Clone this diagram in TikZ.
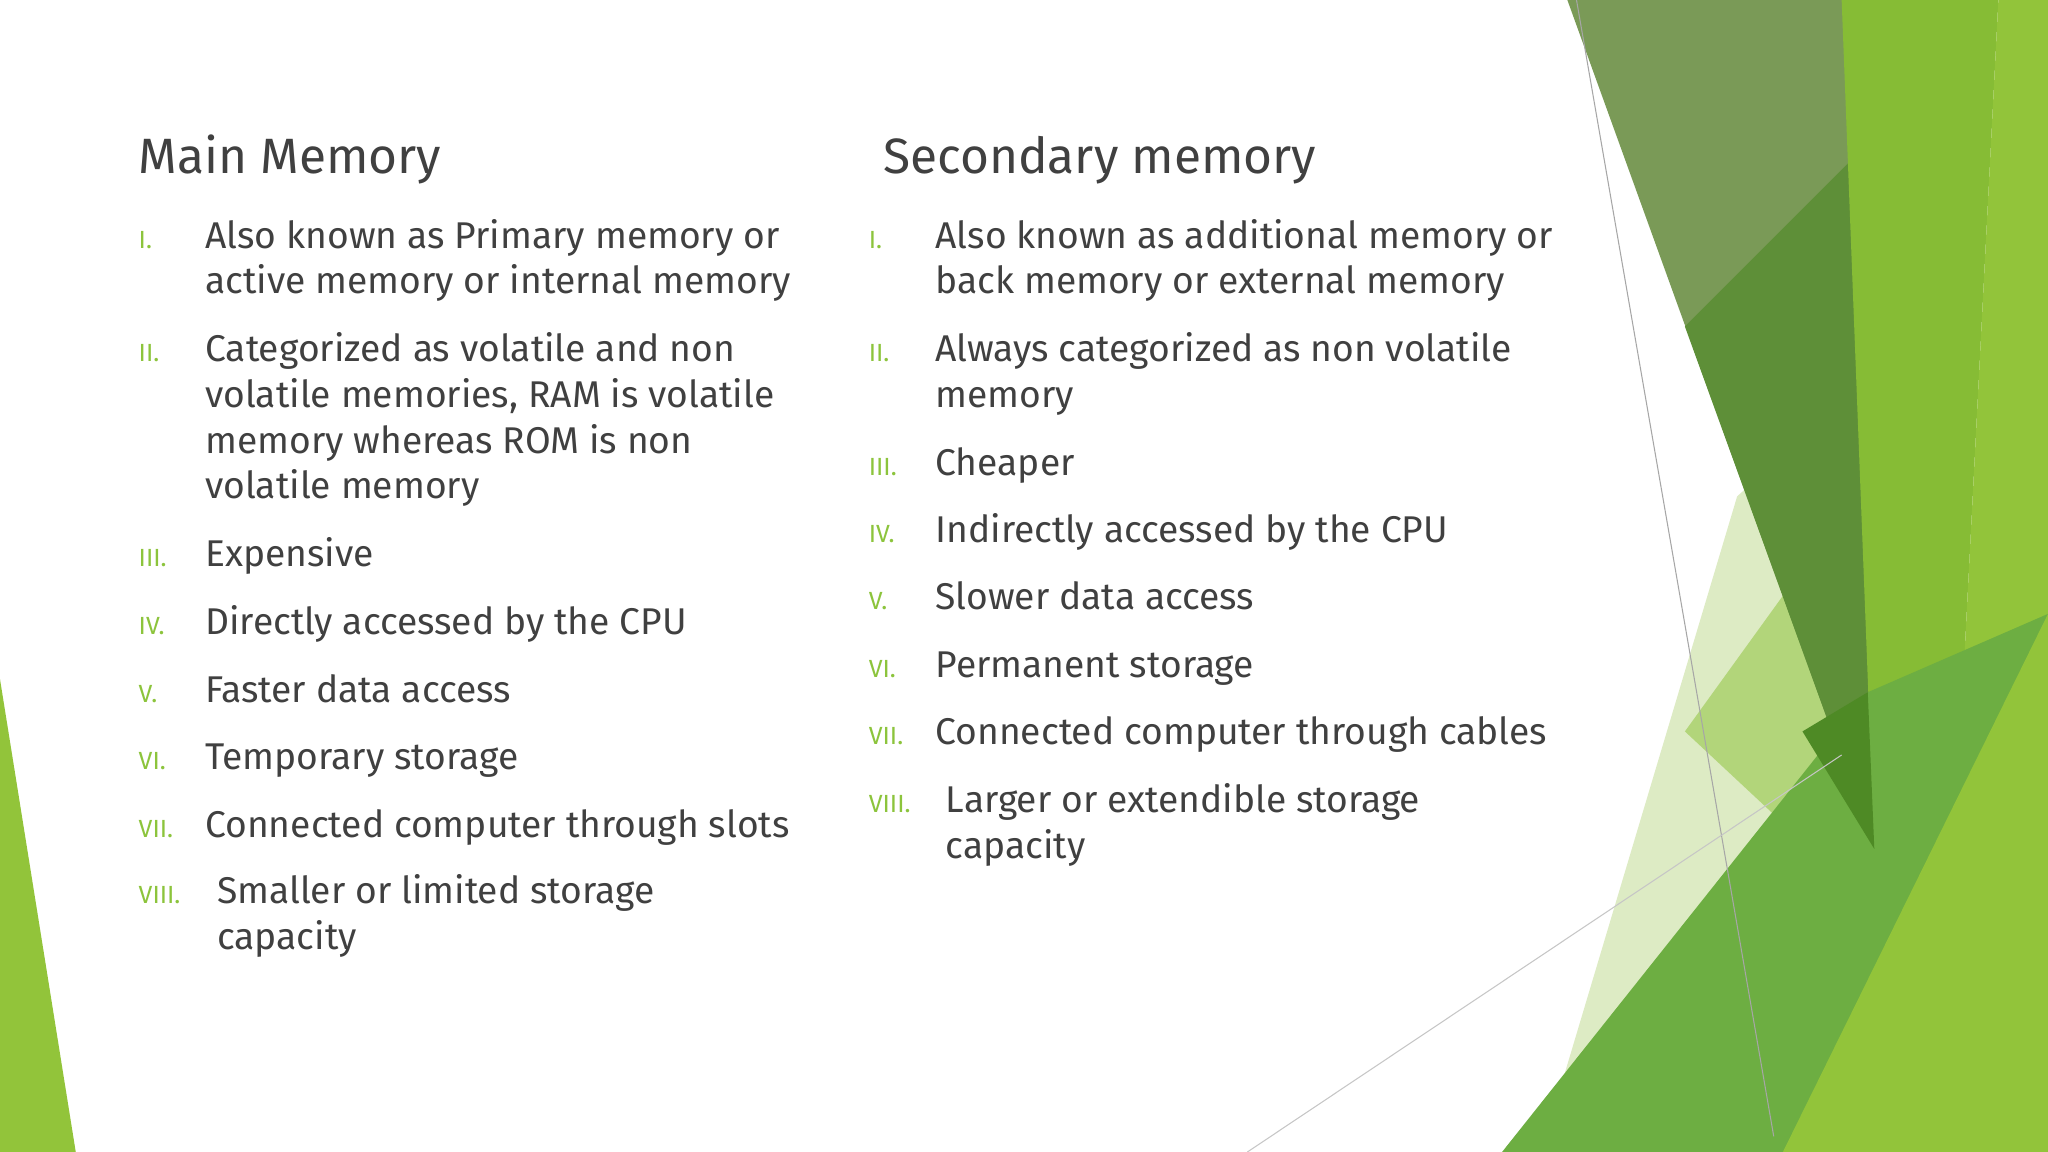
\documentclass[tikz,border=0pt]{standalone}
\usepackage{fontspec}
\setmainfont{Fira Sans}
\definecolor{txt}{HTML}{404040}
\definecolor{num}{HTML}{8CC43C}
\definecolor{gA}{HTML}{7A9A57}
\definecolor{gB}{HTML}{5E8F38}
\definecolor{gC}{HTML}{86BC35}
\definecolor{gD}{HTML}{92C43A}
\definecolor{gE}{HTML}{6DAE42}
\definecolor{gF}{HTML}{DDEBC4}
\definecolor{gG}{HTML}{B2D57A}
\definecolor{gH}{HTML}{4E8A25}
\newcommand{\ml}[1]{\parbox[t]{700pt}{\raggedright #1}}
\begin{document}
\begin{tikzpicture}[x=1pt,y=-1pt,
  it/.style={anchor=base west,text=txt,font=\fontsize{28.5}{35}\selectfont,inner sep=0pt},
  nm/.style={anchor=base west,text=num,font=\fontsize{19}{22}\selectfont,inner sep=0pt},
  ttl/.style={anchor=base west,text=txt,font=\fontsize{38}{44}\selectfont,inner sep=0pt}]
\useasboundingbox (0,0) rectangle (1568,882);
\fill[white] (0,0) rectangle (1568,882);
% right decoration
\fill[gF] (1330,380) -- (1420,300) -- (1500,580) -- (1430,882) -- (1180,882) -- cycle;
\fill[gG] (1290,560) -- (1420,380) -- (1500,580) -- (1440,700) -- cycle;
\fill[gA] (1200,0) -- (1420,0) -- (1435,650) -- cycle;
\fill[gB] (1290,250) -- (1420,120) -- (1435,650) -- cycle;
\fill[gC] (1410,0) -- (1530,0) -- (1500,580) -- (1435,650) -- cycle;
\fill[gD] (1530,0) -- (1568,0) -- (1568,882) -- (1500,580) -- cycle;
\fill[gE] (1150,882) -- (1430,530) -- (1568,470) -- (1568,882) -- cycle;
\fill[gH] (1380,560) -- (1430,530) -- (1435,650) -- cycle;
\fill[gD] (1365,882) -- (1568,470) -- (1568,882) -- cycle;
\draw[gray!70,line width=0.8pt] (1207,0) -- (1358,870);
\draw[gray!45,line width=0.8pt] (955,882) -- (1410,578);
% left decoration
\fill[gD] (0,520) -- (58,882) -- (0,882) -- cycle;
% titles
\node[ttl] (t1) at (106,133) {Main Memory};
\node[ttl] (t2) at (676,133) {Secondary memory};
% left list
\node[nm] (l1n) at (106,190) {I.};
\node[it] (l1) at (157,190) {\ml{Also known as Primary memory or\\active memory or internal memory}};
\node[nm] (l2n) at (106,277) {II.};
\node[it] (l2) at (157,277) {\ml{Categorized as volatile and non\\volatile memories, RAM is volatile\\memory whereas ROM is non\\volatile memory}};
\node[nm] (l3n) at (106,434) {III.};
\node[it] (l3) at (157,434) {Expensive};
\node[nm] (l4n) at (106,486) {IV.};
\node[it] (l4) at (157,486) {Directly accessed by the CPU};
\node[nm] (l5n) at (106,538) {V.};
\node[it] (l5) at (157,538) {Faster data access};
\node[nm] (l6n) at (106,589) {VI.};
\node[it] (l6) at (157,589) {Temporary storage};
\node[nm] (l7n) at (106,641) {VII.};
\node[it] (l7) at (157,641) {Connected computer through slots};
\node[nm] (l8n) at (106,692) {VIII.};
\node[it] (l8) at (166,692) {\ml{Smaller or limited storage\\capacity}};
% right list
\node[nm] (r1n) at (665,190) {I.};
\node[it] (r1) at (716,190) {\ml{Also known as additional memory or\\back memory or external memory}};
\node[nm] (r2n) at (665,277) {II.};
\node[it] (r2) at (716,277) {\ml{Always categorized as non volatile\\memory}};
\node[nm] (r3n) at (665,364) {III.};
\node[it] (r3) at (716,364) {Cheaper};
\node[nm] (r4n) at (665,415) {IV.};
\node[it] (r4) at (716,415) {Indirectly accessed by the CPU};
\node[nm] (r5n) at (665,467) {V.};
\node[it] (r5) at (716,467) {Slower data access};
\node[nm] (r6n) at (665,519) {VI.};
\node[it] (r6) at (716,519) {Permanent storage};
\node[nm] (r7n) at (665,570) {VII.};
\node[it] (r7) at (716,570) {Connected computer through cables};
\node[nm] (r8n) at (665,622) {VIII.};
\node[it] (r8) at (724,622) {\ml{Larger or extendible storage\\capacity}};
\end{tikzpicture}
\end{document}
